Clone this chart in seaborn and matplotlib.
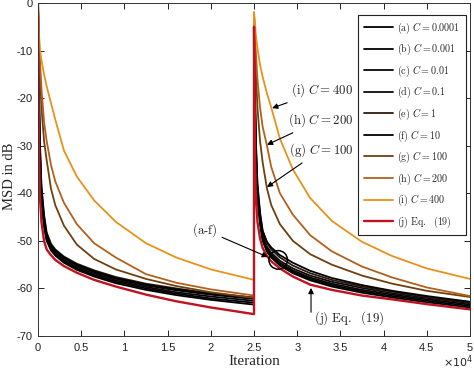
import matplotlib
matplotlib.use("Agg")
import matplotlib.pyplot as plt
from matplotlib.patches import Ellipse
from matplotlib.ticker import FuncFormatter
import seaborn as sns
import pandas as pd

# iteration offsets inside each half (system changes at 25000)
half = [0, 100, 200, 400, 700, 1000, 1500, 2000, 3000, 4500, 6500, 9000, 12500, 16000, 20000, 25000]
iters = half + [25000 + t for t in half]

labels = [r"$\mathrm{(a)}\ C = 0.0001$", r"$\mathrm{(b)}\ C = 0.001$", r"$\mathrm{(c)}\ C = 0.01$",
          r"$\mathrm{(d)}\ C = 0.1$", r"$\mathrm{(e)}\ C = 1$", r"$\mathrm{(f)}\ C = 10$",
          r"$\mathrm{(g)}\ C = 100$", r"$\mathrm{(h)}\ C = 200$", r"$\mathrm{(i)}\ C = 400$",
          r"$\mathrm{(j)\ Eq.\ \ (19)}$"]
colors = ["#000000", "#000000", "#050505", "#0d0a08", "#2e1a0c", "#000000",
          "#6e400f", "#b3601c", "#e8921c", "#c0121f"]

msd_a = [0, -21, -33, -42, -47, -50, -52, -53.1, -54.6, -56.1, -57.5, -58.9, -60.3, -61.4, -62.4, -63.4,
         -3, -21, -32, -41, -46.5, -50, -52.3, -53.5, -55.2, -56.8, -58.3, -59.6, -60.9, -61.9, -62.9, -64.0]
msd_b = [0, -20, -32, -41, -46.5, -49.7, -51.7, -52.8, -54.3, -55.8, -57.2, -58.6, -60, -61.1, -62.1, -63.0,
         -3, -20, -31, -40.5, -46, -49.6, -51.9, -53.2, -54.9, -56.5, -58, -59.3, -60.6, -61.6, -62.6, -63.7]
msd_c = [0, -19, -31, -40.5, -46, -49.3, -51.4, -52.5, -54, -55.5, -56.9, -58.3, -59.7, -60.8, -61.7, -62.6,
         -3, -19, -30.5, -40, -45.6, -49.2, -51.6, -52.9, -54.6, -56.2, -57.7, -59, -60.3, -61.3, -62.3, -63.4]
msd_d = [0, -18, -30, -40, -45.5, -49, -51.2, -52.3, -53.7, -55.2, -56.6, -58, -59.4, -60.4, -61.3, -62.2,
         -3, -18, -30, -39.5, -45, -48.8, -51.2, -52.5, -54.2, -55.8, -57.3, -58.6, -59.9, -61, -62, -63.1]
msd_e = [0, -16, -28, -38.5, -44.5, -48.2, -50.6, -51.8, -53.3, -54.8, -56.2, -57.6, -59, -60, -61, -61.9,
         -3, -16, -28, -38, -44, -47.8, -50.4, -51.8, -53.5, -55.2, -56.8, -58.2, -59.6, -60.7, -61.8, -62.9]
msd_f = [0, -17, -29, -39, -45, -48.6, -50.9, -52, -53.5, -55, -56.4, -57.8, -59.2, -60.2, -61.2, -62.1,
         -3, -17, -29, -38.5, -44.5, -48, -50.2, -51.4, -53, -54.6, -56.3, -57.8, -59.3, -60.5, -61.6, -62.8]
msd_g = [0, -8, -14, -22, -29, -33, -39, -42.5, -46.8, -50.8, -53.8, -56, -58, -59.5, -60.8, -62,
         -2, -8, -14, -22, -29, -33.5, -39, -42.5, -46.5, -50, -52.8, -55, -57.3, -59, -60.5, -61.8]
msd_h = [0, -6, -11, -18, -25, -29, -34, -37.5, -42, -46.5, -50.5, -53.5, -57, -58.8, -60.2, -61.5,
         -2, -6, -10, -16, -22, -26, -30, -34.5, -40, -44.5, -48.8, -52.2, -55.4, -57.7, -59.8, -61.6]
msd_i = [0, -6, -9.5, -12, -15, -17.5, -21, -24.5, -31, -36.5, -41.5, -46, -50.5, -53.5, -56, -58.2,
         -2, -4, -6.5, -9.5, -13, -15.5, -19, -22, -28.5, -35, -41, -45.8, -50.2, -53.2, -55.8, -58]
msd_j = [0, -28, -40, -46, -50, -51.8, -53, -54, -55.3, -56.7, -58.2, -59.6, -61.3, -62.7, -64, -65.4,
         -5, -30, -40, -46, -49.5, -51.5, -53.2, -54.3, -55.8, -57.5, -59.2, -60.3, -61.5, -62.3, -63.3, -64.4]

series = [msd_a, msd_b, msd_c, msd_d, msd_e, msd_f, msd_g, msd_h, msd_i, msd_j]
df = pd.concat([pd.DataFrame({"Iteration": iters, "MSD": s, "case": lab})
                for s, lab in zip(series, labels)], ignore_index=True)

sns.set_style("ticks")
plt.rcParams["mathtext.fontset"] = "cm"
plt.rcParams["axes.unicode_minus"] = False
plt.rcParams["font.family"] = ["Liberation Sans", "DejaVu Sans"]

fig = plt.figure(figsize=(4.74, 3.72), dpi=100)
ax = fig.add_axes([38 / 474, 36 / 372, 432 / 474, 333 / 372])

sns.lineplot(data=df, x="Iteration", y="MSD", hue="case", hue_order=labels,
             palette=dict(zip(labels, colors)), estimator=None, sort=False,
             linewidth=1.3, ax=ax)
for line in ax.lines:
    if line.get_color() == "#c0121f":
        line.set_linewidth(1.7)

ax.set_xlim(0, 50000)
ax.set_ylim(-70, 0)
ax.set_xticks([i * 5000 for i in range(11)])
ax.set_yticks(range(-70, 1, 10))
ax.xaxis.set_major_formatter(FuncFormatter(lambda v, p: f"{v / 1e4:g}"))
ax.tick_params(direction="in", top=True, right=True, length=4, width=0.7,
               labelsize=8, colors="#222222")
ax.tick_params(axis="x", pad=5)
ax.tick_params(axis="y", pad=4)
for sp in ax.spines.values():
    sp.set_visible(True)
    sp.set_linewidth(0.7)
    sp.set_color("#333333")

ax.set_xlabel("Iteration", family="Liberation Serif", fontsize=11)
ax.set_ylabel("MSD in dB", family="Liberation Serif", fontsize=10.5)
ax.xaxis.set_label_coords(0.5, -0.058)
ax.yaxis.set_label_coords(-0.05, 0.48)
fig.text(0.998, 0.005, r"$\times 10^4$", ha="right", va="bottom", fontsize=8,
         family="DejaVu Sans", math_fontfamily="dejavusans")

handles, labs = ax.get_legend_handles_labels()
leg = ax.legend(handles, labs, loc="upper right", bbox_to_anchor=(0.99, 0.964),
                borderaxespad=0, fontsize=7.2, handlelength=2.9, handletextpad=0.45,
                labelspacing=0.62, borderpad=0.55, fancybox=False, framealpha=1,
                edgecolor="#222222")
leg.get_frame().set_linewidth(0.8)

arrow = dict(arrowstyle="-|>", color="black", lw=0.8, mutation_scale=8, shrinkA=1, shrinkB=0)
ax.annotate(r"$\mathrm{(i)}\ C = 400$", xy=(27100, -22.1), xytext=(29300, -18.3),
            fontsize=9.3, ha="left", va="center", arrowprops=arrow)
ax.annotate(r"$\mathrm{(h)}\ C = 200$", xy=(26500, -29.8), xytext=(28900, -24.6),
            fontsize=9.3, ha="left", va="center", arrowprops=arrow)
ax.annotate(r"$\mathrm{(g)}\ C = 100$", xy=(26500, -38.7), xytext=(29000, -30.9),
            fontsize=9.3, ha="left", va="center", arrowprops=arrow)
ax.annotate(r"$\mathrm{(a\text{-}f)}$", xy=(26600, -53.4), xytext=(19300, -47.7),
            fontsize=9.3, ha="center", va="center", arrowprops=arrow)
ax.annotate("", xy=(31600, -59.9), xytext=(31600, -65.3), arrowprops=arrow)
ax.text(31900, -66.3, r"$\mathrm{(j)\ Eq.\ \ (19)}$", fontsize=9.3, ha="left", va="center")
ax.add_patch(Ellipse((27800, -54.0), width=2150, height=3.9, fill=False,
                     edgecolor="black", lw=1.1, zorder=5))

fig.savefig("out.png", dpi=100)
